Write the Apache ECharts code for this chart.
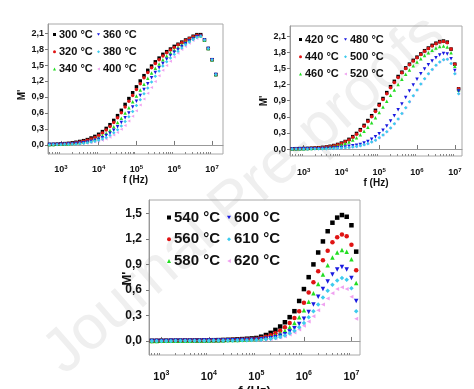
<!DOCTYPE html>
<html><head><meta charset="utf-8">
<script src="https://cdn.jsdelivr.net/npm/echarts@6/dist/echarts.min.js"></script>
<style>html,body{margin:0;padding:0;background:#fff}#c{width:474px;height:389px}</style>
</head><body><div id="c"></div>
<script>
// log10 of frequency (Hz)
const logF = [2.7,2.8,2.9,3.0,3.1,3.2,3.3,3.4,3.5,3.6,3.7,3.8,3.9,4.0,4.1,4.2,4.3,4.4,4.5,4.6,4.7,4.8,4.9,5.0,5.1,5.2,5.3,5.4,5.5,5.6,5.7,5.8,5.9,6.0,6.1,6.2,6.3,6.4,6.5,6.6,6.7,6.8,6.9,7.0,7.1];
const xTickExp = [3,4,5,6,7];
const yTicksA = [0,0.3,0.6,0.9,1.2,1.5,1.8,2.1];
const yTicksC = [0,0.3,0.6,0.9,1.2,1.5];

const namesA = ['300 °C','320 °C','340 °C','360 °C','380 °C','400 °C'];
const namesB = ['420 °C','440 °C','460 °C','480 °C','500 °C','520 °C'];
const namesC = ['540 °C','560 °C','580 °C','600 °C','610 °C','620 °C'];

// Panel 1
const m300 = [0.01,0.012,0.015,0.02,0.025,0.03,0.04,0.05,0.065,0.08,0.10,0.13,0.16,0.20,0.25,0.31,0.38,0.46,0.55,0.65,0.76,0.87,0.98,1.09,1.20,1.30,1.40,1.48,1.56,1.63,1.70,1.75,1.80,1.85,1.89,1.93,1.97,2.00,2.04,2.07,2.07,1.97,1.81,1.60,1.32];
const m320 = [0.01,0.01,0.013,0.017,0.021,0.026,0.033,0.042,0.055,0.07,0.088,0.113,0.14,0.178,0.225,0.28,0.345,0.42,0.51,0.605,0.71,0.82,0.93,1.04,1.15,1.26,1.36,1.45,1.53,1.60,1.67,1.73,1.78,1.83,1.88,1.92,1.96,2.00,2.03,2.06,2.06,1.97,1.81,1.60,1.32];
const m340 = [0.008,0.009,0.011,0.013,0.016,0.02,0.025,0.032,0.041,0.052,0.066,0.085,0.108,0.137,0.175,0.22,0.275,0.34,0.42,0.5,0.6,0.7,0.81,0.92,1.03,1.14,1.25,1.35,1.44,1.52,1.60,1.67,1.73,1.78,1.83,1.88,1.93,1.97,2.01,2.04,2.05,1.97,1.81,1.60,1.32];
const m360 = [0.006,0.007,0.009,0.011,0.013,0.016,0.02,0.025,0.031,0.04,0.05,0.065,0.083,0.106,0.137,0.175,0.22,0.275,0.34,0.42,0.51,0.6,0.71,0.82,0.93,1.04,1.15,1.26,1.36,1.45,1.53,1.61,1.68,1.74,1.79,1.85,1.9,1.95,1.99,2.03,2.04,1.97,1.81,1.6,1.32];
const m380 = [0.005,0.006,0.007,0.009,0.011,0.013,0.016,0.02,0.025,0.032,0.041,0.053,0.067,0.086,0.11,0.142,0.18,0.23,0.285,0.355,0.44,0.53,0.63,0.74,0.85,0.96,1.07,1.18,1.29,1.39,1.48,1.56,1.63,1.7,1.76,1.82,1.88,1.93,1.98,2.02,2.04,1.97,1.81,1.6,1.32];
const m400 = [0.004,0.005,0.006,0.007,0.009,0.011,0.013,0.016,0.02,0.025,0.032,0.041,0.053,0.068,0.088,0.113,0.145,0.185,0.235,0.295,0.365,0.45,0.54,0.64,0.75,0.86,0.97,1.08,1.19,1.3,1.4,1.49,1.57,1.65,1.72,1.79,1.85,1.91,1.96,2.0,2.03,1.96,1.81,1.6,1.32];

// Panel 2
const m420 = [0.005,0.006,0.008,0.01,0.012,0.015,0.019,0.024,0.03,0.038,0.05,0.065,0.085,0.11,0.14,0.18,0.23,0.29,0.36,0.44,0.53,0.62,0.72,0.83,0.94,1.05,1.16,1.26,1.35,1.43,1.51,1.58,1.65,1.71,1.77,1.83,1.88,1.93,1.97,2.0,2.01,1.99,1.86,1.58,1.12];
const m440 = [0.005,0.006,0.007,0.009,0.011,0.014,0.018,0.023,0.029,0.036,0.047,0.061,0.08,0.104,0.133,0.17,0.218,0.275,0.345,0.425,0.51,0.6,0.7,0.81,0.92,1.03,1.14,1.24,1.33,1.42,1.5,1.57,1.64,1.7,1.76,1.82,1.87,1.92,1.96,1.99,2.0,1.98,1.86,1.58,1.12];
const m460 = [0.004,0.005,0.006,0.007,0.009,0.011,0.014,0.017,0.022,0.028,0.036,0.047,0.061,0.079,0.102,0.13,0.167,0.21,0.265,0.33,0.405,0.49,0.58,0.68,0.78,0.89,1.0,1.1,1.2,1.3,1.39,1.47,1.55,1.62,1.68,1.74,1.79,1.84,1.88,1.91,1.92,1.9,1.79,1.54,1.1];
const m480 = [0.002,0.002,0.003,0.003,0.004,0.005,0.006,0.007,0.009,0.011,0.014,0.018,0.023,0.03,0.039,0.05,0.06,0.072,0.085,0.11,0.14,0.18,0.23,0.285,0.35,0.43,0.52,0.62,0.73,0.84,0.96,1.08,1.19,1.3,1.4,1.49,1.57,1.64,1.7,1.75,1.78,1.77,1.68,1.46,1.08];
const m500 = [0.001,0.001,0.002,0.002,0.002,0.003,0.003,0.004,0.005,0.006,0.008,0.01,0.013,0.017,0.022,0.028,0.036,0.047,0.06,0.078,0.1,0.13,0.165,0.21,0.26,0.32,0.39,0.47,0.56,0.66,0.77,0.88,0.99,1.1,1.21,1.31,1.4,1.48,1.56,1.62,1.66,1.67,1.59,1.4,1.03];
const m520 = [0.001,0.001,0.002,0.002,0.002,0.003,0.003,0.004,0.005,0.006,0.008,0.01,0.013,0.017,0.022,0.028,0.036,0.047,0.06,0.078,0.1,0.13,0.165,0.21,0.26,0.32,0.39,0.47,0.56,0.66,0.77,0.88,0.99,1.1,1.21,1.31,1.4,1.48,1.56,1.62,1.66,1.67,1.59,1.4,1.03];

// Panel 3
const m540 = [0.002,0.002,0.002,0.003,0.003,0.003,0.004,0.004,0.005,0.005,0.006,0.006,0.007,0.008,0.009,0.01,0.012,0.014,0.016,0.019,0.022,0.026,0.03,0.035,0.05,0.07,0.095,0.13,0.17,0.22,0.28,0.35,0.47,0.61,0.75,0.9,1.04,1.17,1.29,1.39,1.45,1.48,1.46,1.36,1.05];
const m560 = [0.001,0.001,0.002,0.002,0.002,0.003,0.003,0.003,0.004,0.004,0.005,0.005,0.006,0.007,0.008,0.009,0.01,0.011,0.013,0.015,0.017,0.02,0.023,0.027,0.036,0.05,0.067,0.09,0.12,0.16,0.21,0.27,0.35,0.45,0.57,0.69,0.82,0.95,1.06,1.16,1.22,1.25,1.23,1.13,0.83];
const m580 = [0.001,0.001,0.001,0.002,0.002,0.002,0.002,0.003,0.003,0.003,0.004,0.004,0.005,0.006,0.007,0.008,0.009,0.01,0.011,0.012,0.014,0.016,0.019,0.022,0.028,0.038,0.05,0.068,0.09,0.12,0.16,0.21,0.28,0.36,0.46,0.56,0.67,0.78,0.89,0.98,1.04,1.07,1.05,0.96,0.68];
const m600 = [0.001,0.001,0.001,0.001,0.001,0.002,0.002,0.002,0.002,0.003,0.003,0.003,0.004,0.004,0.005,0.005,0.006,0.007,0.008,0.009,0.01,0.011,0.013,0.015,0.019,0.025,0.033,0.045,0.06,0.08,0.11,0.15,0.2,0.26,0.34,0.43,0.52,0.61,0.7,0.78,0.84,0.87,0.84,0.74,0.47];
const m610 = [0.001,0.001,0.001,0.001,0.001,0.001,0.002,0.002,0.002,0.002,0.002,0.003,0.003,0.003,0.004,0.004,0.005,0.005,0.006,0.007,0.008,0.009,0.01,0.012,0.015,0.02,0.027,0.036,0.048,0.065,0.09,0.12,0.16,0.21,0.28,0.35,0.43,0.51,0.59,0.66,0.71,0.74,0.72,0.62,0.35];
const m620 = [0.001,0.001,0.001,0.001,0.001,0.001,0.001,0.001,0.002,0.002,0.002,0.002,0.002,0.003,0.003,0.003,0.004,0.004,0.005,0.005,0.006,0.007,0.008,0.01,0.012,0.016,0.022,0.03,0.04,0.055,0.075,0.1,0.135,0.18,0.23,0.29,0.36,0.43,0.5,0.56,0.61,0.63,0.61,0.52,0.26];

const colors = ['#000000','#e01414','#22dd22','#1a1ae0','#3ccbee','#f0a0f0'];
const symbols = ['rect','circle','triangle','path://M0,0L10,0L5,9Z','diamond','path://M9,0L9,10L0,5Z'];
const FONT = 'Liberation Sans, Arial, sans-serif';

const panels = [
  {names: namesA, data:[m300,m320,m340,m360,m380,m400], grid:{left:48,top:24,width:175,height:130}, x:[2.66,7.29], y:[-0.17,2.27], yt:yTicksA,
   xfs:9, yfs:9, nfs:10, ss:3.5, leg:[{left:53,top:29},{left:97,top:29}], legFs:11, legGap:6.3, legIcon:3,
   nameGap:16, moveOverlap:true, xNameGap:16, yPad:12, labMargin:4, xMargin:10},
  {names: namesB, data:[m420,m440,m460,m480,m500,m520], grid:{left:290,top:26,width:172,height:130}, x:[2.64,7.19], y:[-0.13,2.29], yt:yTicksA,
   xfs:9, yfs:9, nfs:10, ss:3.5, leg:[{left:299,top:34},{left:344,top:34}], legFs:11, legGap:6.3, legIcon:3,
   nameGap:17, moveOverlap:true, xNameGap:18, yPad:20, labMargin:4, xMargin:11},
  {names: namesC, data:[m540,m560,m580,m600,m610,m620], grid:{left:149,top:200,width:211,height:155}, x:[2.74,7.18], y:[-0.165,1.657], yt:yTicksC,
   xfs:11, yfs:12, nfs:13, ss:4.5, leg:[{left:167,top:210},{left:227,top:210}], legFs:15, legGap:6.8, legIcon:4,
   nameGap:15, moveOverlap:false, xNameGap:30, yPad:2, labMargin:7, xMargin:15}
];
const drawOrder = [5,0,1,2,3,4];

function minorTicks(lo, hi) {
  const out = [];
  for (let n = 2; n <= 7; n++) for (let k = 2; k <= 9; k++) {
    const v = n + Math.log10(k);
    if (v > lo && v < hi) out.push(v);
  }
  return out;
}

const grids = [], xAxes = [], yAxes = [], series = [], legends = [];
panels.forEach((p, gi) => {
  grids.push(Object.assign({show:true, borderColor:'#a8a8a8', borderWidth:1, containLabel:false, outerBoundsMode:'none'}, p.grid));
  const sup = Math.round(p.xfs*0.65);
  xAxes.push({
    type:'value', gridIndex:gi, position:'bottom', min:p.x[0], max:p.x[1],
    name:'f (Hz)', nameLocation:'middle', nameGap:p.xNameGap,
    nameTextStyle:{fontFamily:FONT, fontWeight:'bold', fontSize:p.nfs, color:'#111'},
    axisLine:{show:true, lineStyle:{color:'#999', width:1}},
    axisTick:{show:true, inside:true, length:4, customValues:xTickExp, lineStyle:{color:'#777'}},
    splitLine:{show:false},
    axisLabel:{customValues:xTickExp, margin:p.xMargin, color:'#111',
      formatter: v => '{b|10}{s|' + v + '}',
      rich:{b:{fontFamily:FONT, fontWeight:'bold', fontSize:p.xfs, lineHeight:p.xfs+2, color:'#111'},
            s:{fontFamily:FONT, fontWeight:'bold', fontSize:sup, lineHeight:sup, verticalAlign:'top', color:'#111'}}}
  });
  xAxes.push({
    type:'value', gridIndex:gi, position:'bottom', min:p.x[0], max:p.x[1],
    axisLine:{show:false}, splitLine:{show:false}, axisLabel:{show:false},
    axisTick:{show:true, inside:true, length:2, customValues:minorTicks(p.x[0], p.x[1]), lineStyle:{color:'#888'}}
  });
  yAxes.push({
    type:'value', gridIndex:gi, min:p.y[0], max:p.y[1],
    name:"M'", nameLocation:'middle', nameGap:p.nameGap, nameMoveOverlap:p.moveOverlap,
    nameTextStyle:{fontFamily:FONT, fontWeight:'bold', fontSize:p.nfs, color:'#111', padding:[0,p.yPad,0,0]},
    axisLine:{show:true, lineStyle:{color:'#999', width:1}},
    axisTick:{show:true, inside:false, length:3, customValues:p.yt, lineStyle:{color:'#777'}},
    splitLine:{show:false},
    axisLabel:{customValues:p.yt, margin:p.labMargin, fontFamily:FONT, fontWeight:'bold', fontSize:p.yfs, color:'#111',
      formatter: v => v.toFixed(1).replace('.', ',')}
  });
  drawOrder.forEach(si => {
    series.push({
      type:'scatter', name:p.names[si], xAxisIndex:gi*2, yAxisIndex:gi,
      data: logF.map((x, i) => [x, p.data[si][i]]),
      symbol:symbols[si], symbolSize: si === 5 ? p.ss - 0.5 : p.ss,
      itemStyle:{color:colors[si], opacity:1}, silent:true, animation:false
    });
  });
  [0,1].forEach(c => {
    legends.push({
      data:p.names.slice(c*3, c*3+3), orient:'vertical', left:p.leg[c].left, top:p.leg[c].top,
      padding:0, itemGap:p.legGap, itemWidth:p.legIcon, itemHeight:p.legIcon, selectedMode:false,
      textStyle:{fontFamily:FONT, fontWeight:'bold', fontSize:p.legFs, color:'#111', padding:[0,0,0,-2]}
    });
  });
});

const chart = echarts.init(document.getElementById('c'), null, {renderer:'canvas'});
chart.setOption({
  backgroundColor:'#fff', animation:false,
  graphic:[{type:'text', z:-10, x:245, y:195, rotation:0.72,
    style:{text:'Journal Pre-proofs', fontFamily:FONT, fontSize:62, fill:'#efefef', align:'center', verticalAlign:'middle'}, silent:true}],
  grid:grids, xAxis:xAxes, yAxis:yAxes, legend:legends, series:series
});
</script></body></html>
